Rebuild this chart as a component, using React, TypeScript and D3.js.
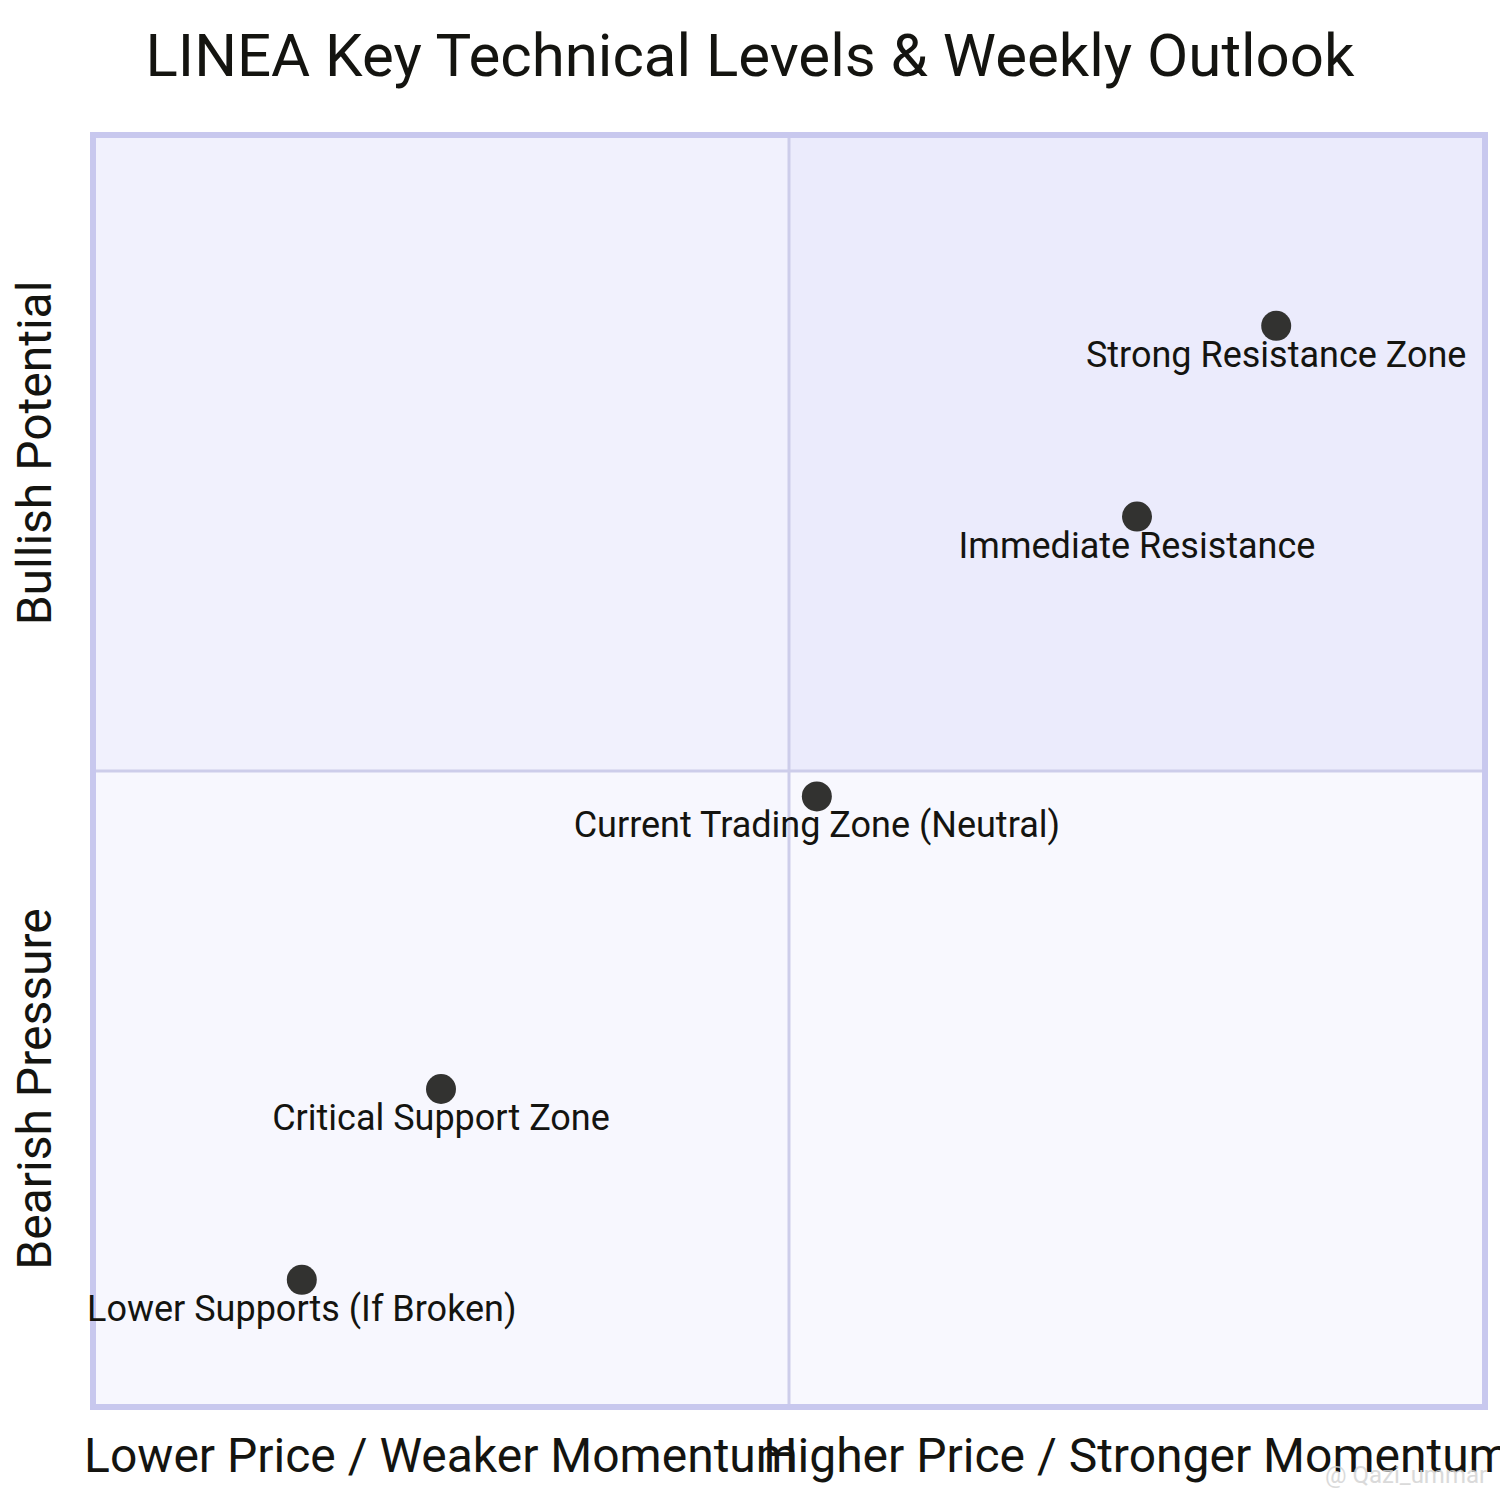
import React from "react";
import * as d3 from "d3";

const pointLabels = [
  "Strong Resistance Zone",
  "Immediate Resistance",
  "Current Trading Zone (Neutral)",
  "Critical Support Zone",
  "Lower Supports (If Broken)",
];
const pointX = [8.5, 7.5, 5.2, 2.5, 1.5];
const pointY = [8.5, 7.0, 4.8, 2.5, 1.0];

const xAxisLabels = ["Lower Price / Weaker Momentum", "Higher Price / Stronger Momentum"];
const yAxisLabels = ["Bearish Pressure", "Bullish Potential"];

// quadrants: [x0, x1, y0, y1, fill]
const quadrants: [number, number, number, number, string][] = [
  [0, 5, 5, 10, "#f1f1fd"],
  [5, 10, 5, 10, "#ebebfc"],
  [0, 5, 0, 5, "#f7f7fe"],
  [5, 10, 0, 5, "#f8f8fe"],
];

const title = "LINEA Key Technical Levels & Weekly Outlook";

export default function App() {
  const W = 1500;
  const H = 1500;
  const left = 93, right = 1485, top = 135, bottom = 1407;
  const x = d3.scaleLinear().domain([0, 10]).range([left, right]);
  const y = d3.scaleLinear().domain([0, 10]).range([bottom, top]);
  const font = "Roboto, 'Noto Sans', sans-serif";
  const textColor = "#141410";

  return (
    <svg
      width={W}
      height={H}
      viewBox={`0 0 ${W} ${H}`}
      style={{ position: "absolute", left: 0, top: 0, background: "#fff" }}
      fontFamily={font}
    >
      <rect x={0} y={0} width={W} height={H} fill="#ffffff" />
      <text x={750} y={76} textAnchor="middle" fontSize={60} fill={textColor}>
        {title}
      </text>

      {quadrants.map((q, i) => (
        <rect
          key={i}
          x={x(q[0])}
          y={y(q[3])}
          width={x(q[1]) - x(q[0])}
          height={y(q[2]) - y(q[3])}
          fill={q[4]}
        />
      ))}

      <line x1={x(5)} x2={x(5)} y1={y(0)} y2={y(10)} stroke="#cdcdea" strokeWidth={3} />
      <line x1={x(0)} x2={x(10)} y1={y(5)} y2={y(5)} stroke="#cdcdea" strokeWidth={3} />

      <rect
        x={x(0)}
        y={y(10)}
        width={x(10) - x(0)}
        height={y(0) - y(10)}
        fill="none"
        stroke="#c8c8ee"
        strokeWidth={6}
      />

      {pointLabels.map((lab, i) => (
        <g key={lab}>
          <circle cx={x(pointX[i])} cy={y(pointY[i])} r={15} fill="#323230" />
          <text
            x={x(pointX[i])}
            y={y(pointY[i]) + 41}
            textAnchor="middle"
            fontSize={36}
            fill={textColor}
          >
            {lab}
          </text>
        </g>
      ))}

      {xAxisLabels.map((lab, i) => (
        <text
          key={lab}
          x={x(i * 5 + 2.5)}
          y={1472}
          textAnchor="middle"
          fontSize={48}
          fill={textColor}
        >
          {lab}
        </text>
      ))}

      {yAxisLabels.map((lab, i) => (
        <text
          key={lab}
          transform={`translate(51, ${y(i * 5 + 2.5)}) rotate(-90)`}
          textAnchor="middle"
          fontSize={48}
          fill={textColor}
        >
          {lab}
        </text>
      ))}

      <text x={1325} y={1483} fontSize={24} fill="#d4d4d4" opacity={0.85}>
        @ Qazi_ummar
      </text>
    </svg>
  );
}
